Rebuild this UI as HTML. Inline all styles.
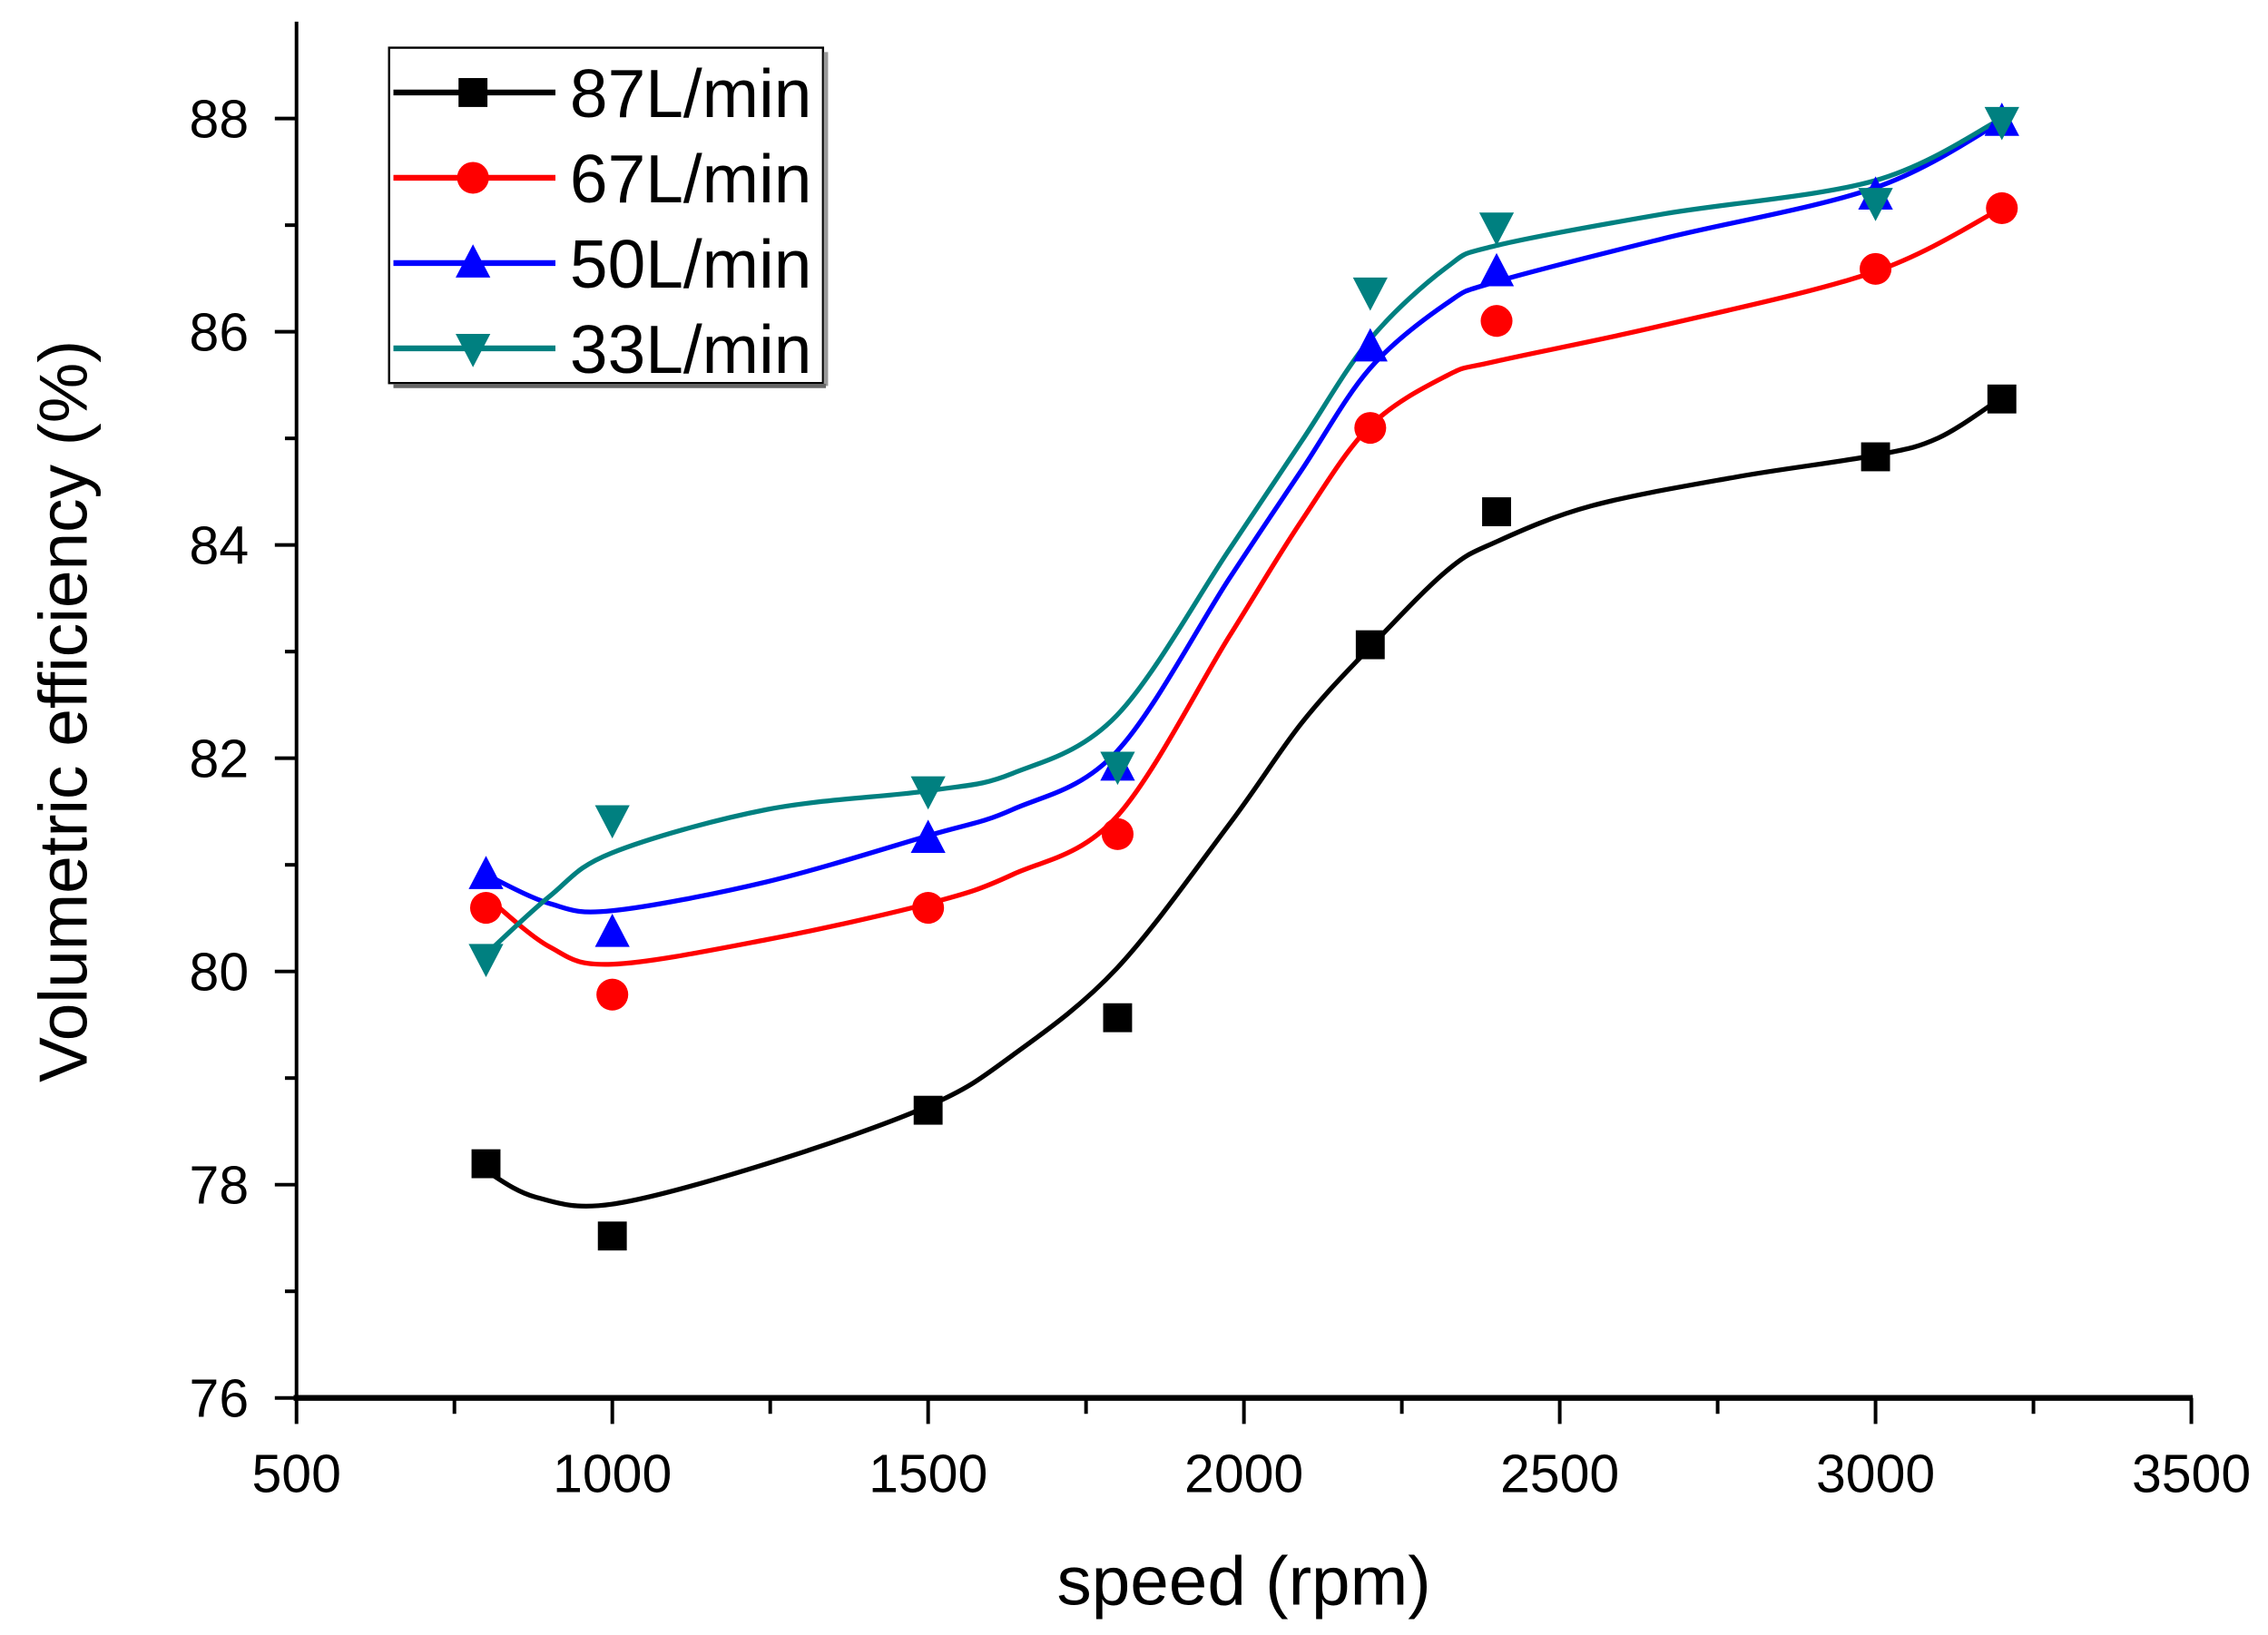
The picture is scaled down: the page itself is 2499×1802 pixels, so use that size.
<!DOCTYPE html>
<html><head><meta charset="utf-8"><style>
html,body{margin:0;padding:0;background:#fff}
svg{display:block}
text{font-family:"Liberation Sans",Arial,sans-serif}
</style></head><body>
<svg id="s" width="2499" height="1802" viewBox="0 0 1568 1131" preserveAspectRatio="none" xmlns="http://www.w3.org/2000/svg">
<rect width="1568" height="1131" fill="#fff"/>
<g id="axes" stroke="#000" fill="none">
<line x1="205" y1="15" x2="205" y2="968" stroke-width="2.5"/>
<line x1="203" y1="967" x2="1516" y2="967" stroke-width="4"/>
</g>
<g id="ticks" stroke="#000" stroke-width="2.5"></g>
<g id="labels" font-size="37" fill="#000"></g>
<text x="860" y="1110" font-size="48" text-anchor="middle">speed (rpm)</text>
<text transform="translate(60,492) rotate(-90)" font-size="47" text-anchor="middle">Volumetric efficiency (%)</text>
<g id="curves" fill="none" stroke-width="3.3"></g>
<g id="marks"></g>
<g id="legend">
<rect x="269" y="33" width="300" height="232" fill="#fff" stroke="#000" stroke-width="1.5"/>
<line x1="571" y1="36" x2="571" y2="267" stroke="#999" stroke-width="3"/>
<line x1="272" y1="267" x2="571" y2="267" stroke="#666" stroke-width="3"/>
</g>
</svg>
<script>
const NS="http://www.w3.org/2000/svg";
function el(p,t,a){const e=document.createElementNS(NS,t);for(const k in a)e.setAttribute(k,a[k]);p.appendChild(e);return e;}
const X=v=>205+(v-500)*0.43667, Y=v=>967-(v-76)*73.75;
const tk=document.getElementById('ticks'), lb=document.getElementById('labels');
for(let v=76;v<=88;v++){const maj=v%2==0;el(tk,'line',{x1:maj?190:197,y1:Y(v),x2:205,y2:Y(v)});
 if(maj){const t=el(lb,'text',{x:172,y:Y(v)+13,'text-anchor':'end'});t.textContent=v;}}
for(let v=500;v<=3500;v+=250){const maj=v%500==0;el(tk,'line',{x1:X(v),y1:967,x2:X(v),y2:maj?985:978});
 if(maj){const t=el(lb,'text',{x:X(v),y:1032,'text-anchor':'middle'});t.textContent=v;}}
function path(pts){let d=`M${pts[0][0]},${pts[0][1]}`;for(let i=0;i<pts.length-1;i++){const p0=pts[i-1]||pts[i],p1=pts[i],p2=pts[i+1],p3=pts[i+2]||p2;
 d+=` C${p1[0]+(p2[0]-p0[0])/6},${p1[1]+(p2[1]-p0[1])/6} ${p2[0]-(p3[0]-p1[0])/6},${p2[1]-(p3[1]-p1[1])/6} ${p2[0]},${p2[1]}`;}return d;}
const S=[
{c:'#000',m:'sq',curve:[[336,810],[370,828],[423,833],[530,805],[642,765],[700,730],[772,670],[850,570],[900,500],[947,448],[1000,395],[1034,375],[1100,350],[1200,330],[1296,315],[1340,303],[1384,275]],pts:[805,855,768,704,446,354,316,276]},
{c:'#f00',m:'ci',curve:[[336,620],[380,655],[423,667],[530,650],[642,625],[700,605],[772,565],[850,440],[900,360],[947,295],[1000,260],[1034,250],[1150,225],[1296,188],[1384,144]],pts:[628,688,628,577,296,222,186,144]},
{c:'#00f',m:'up',curve:[[336,605],[380,625],[423,630],[530,610],[642,578],[700,560],[772,520],[850,400],[900,325],[947,255],[1000,210],[1034,195],[1150,165],[1296,130],[1384,84]],pts:[605,645,580,530,240,188,135,84]},
{c:'#008080',m:'dn',curve:[[336,660],[380,620],[423,590],[530,560],[642,547],[700,535],[772,495],[850,380],[900,305],[947,235],[1000,185],[1034,170],[1150,148],[1296,125],[1384,82]],pts:[663,567,547,530,202,157,140,84]}];
const xs=[800,1000,1500,1800,2200,2400,3000,3200];
const cg=document.getElementById('curves'),mg=document.getElementById('marks'),lg=document.getElementById('legend');
function mark(g,m,x,y,c){if(m=='sq')el(g,'rect',{x:x-10,y:y-10,width:20,height:20,fill:c});
 else if(m=='ci')el(g,'circle',{cx:x,cy:y,r:11,fill:c});
 else if(m=='up')el(g,'polygon',{points:`${x},${y-13} ${x-12},${y+10} ${x+12},${y+10}`,fill:c});
 else el(g,'polygon',{points:`${x-12},${y-10} ${x+12},${y-10} ${x},${y+13}`,fill:c});}
S.forEach((s,i)=>{el(cg,'path',{d:path(s.curve),stroke:s.c});
 s.pts.forEach((y,j)=>mark(mg,s.m,X(xs[j]),y,s.c));
 const ly=64+i*59;el(lg,'line',{x1:272,y1:ly,x2:384,y2:ly,stroke:s.c,'stroke-width':4});mark(lg,s.m,327,ly,s.c);
 const t=el(lg,'text',{x:394,y:ly+17,'font-size':47,fill:'#000'});t.textContent=['87L/min','67L/min','50L/min','33L/min'][i];});
</script>
</body></html>
